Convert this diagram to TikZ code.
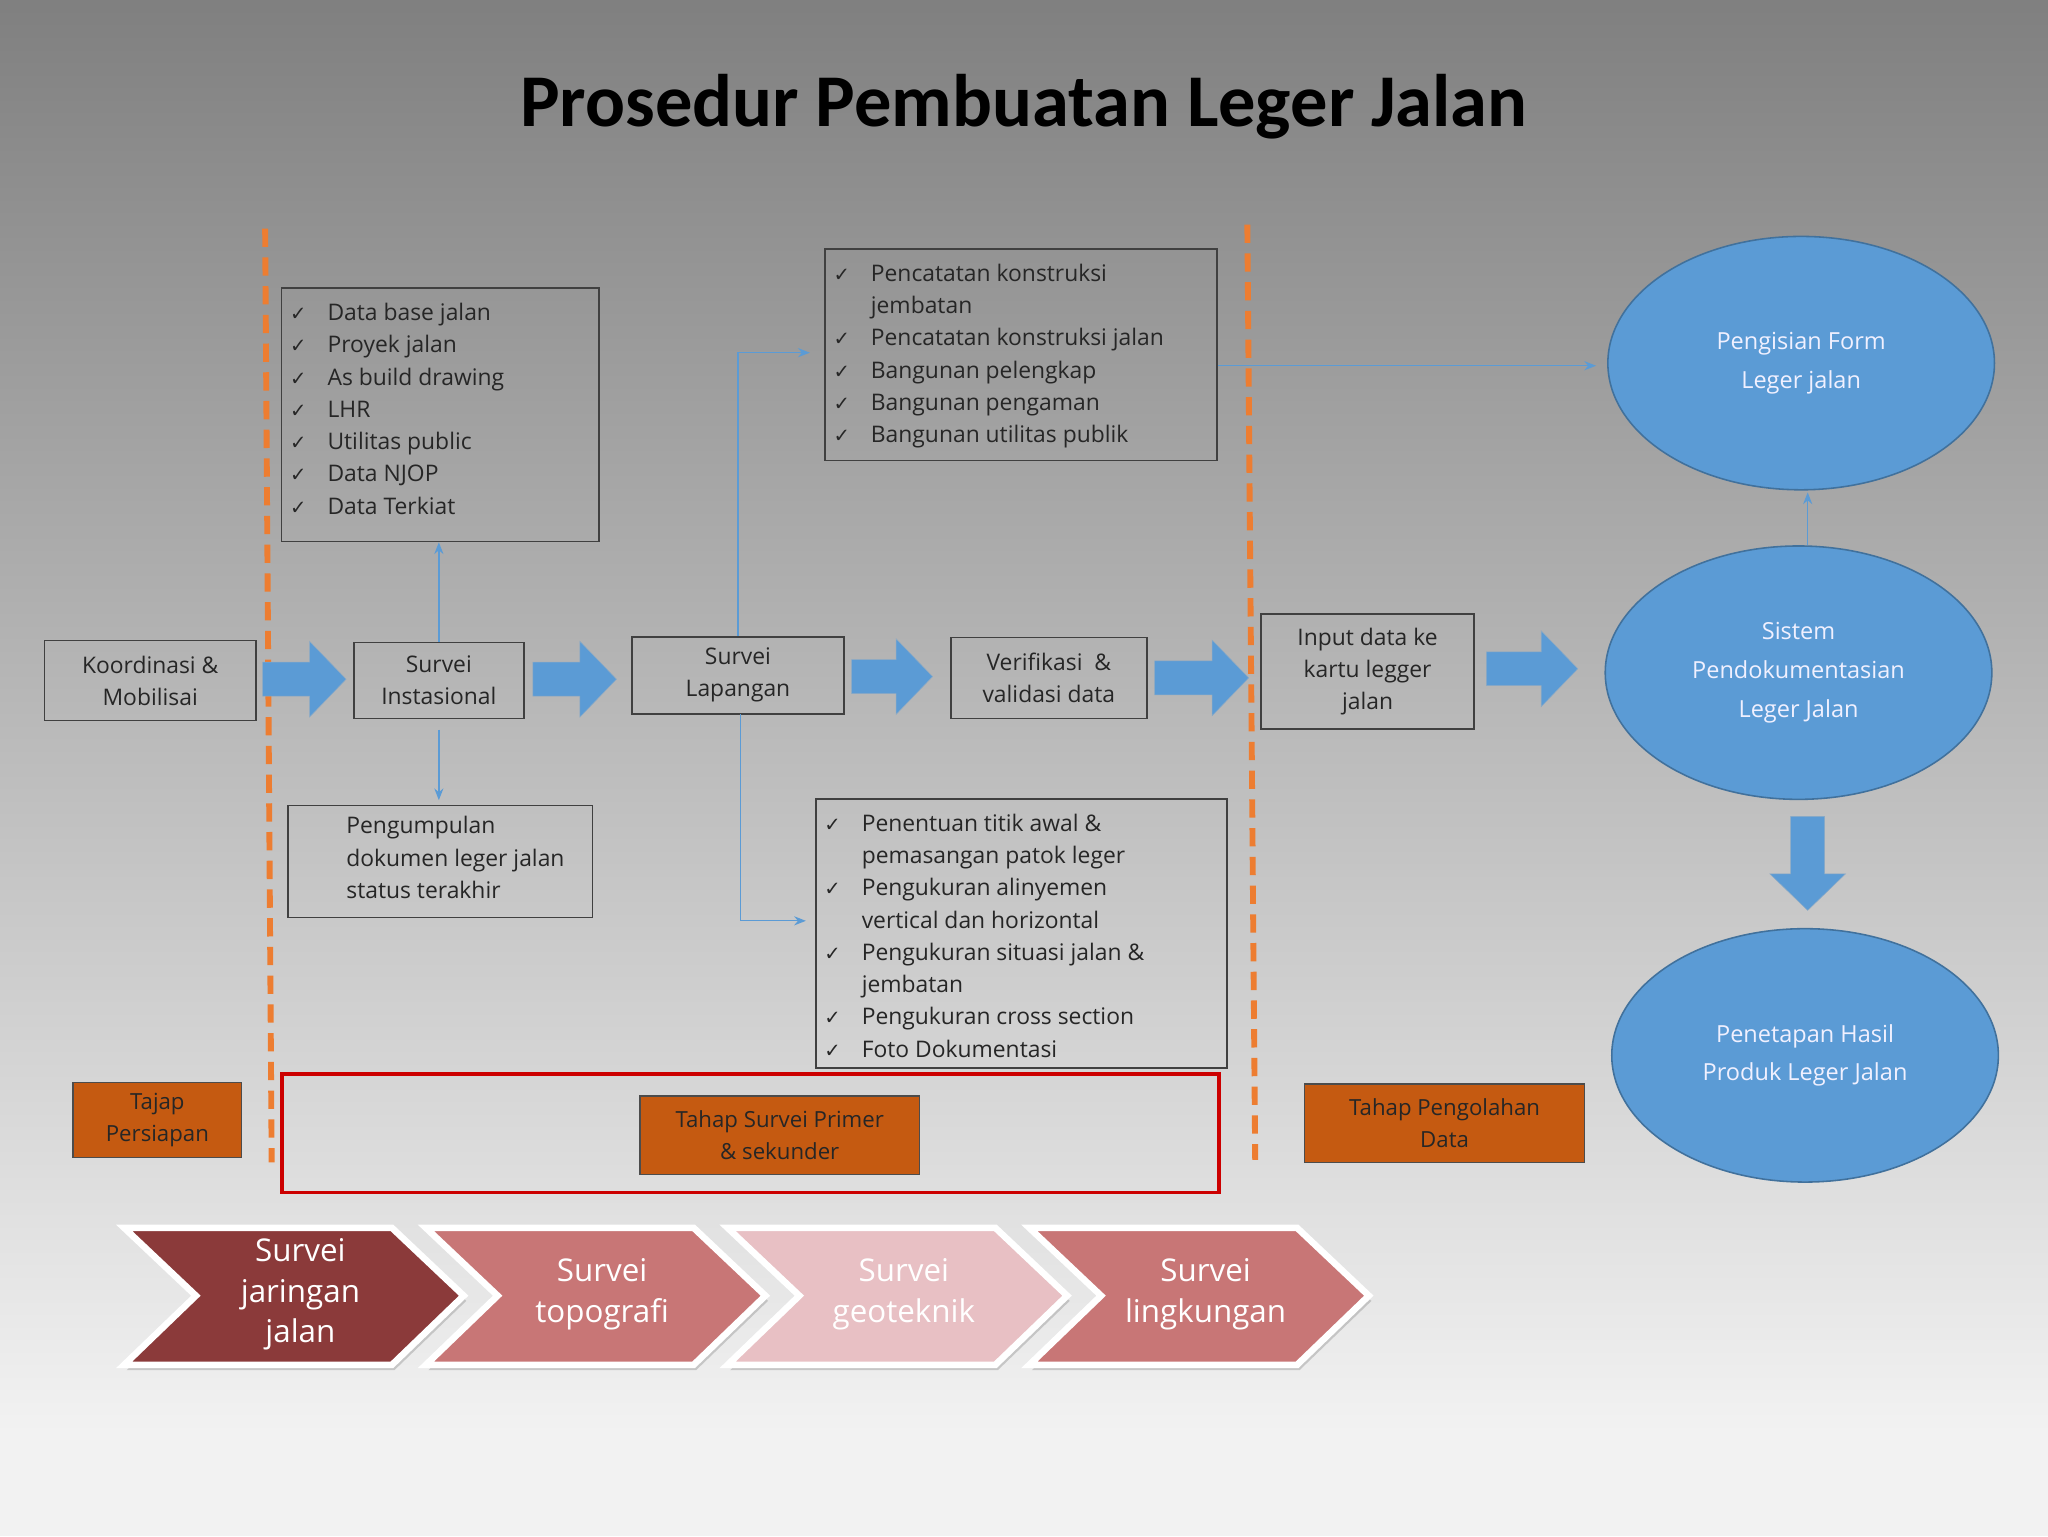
\documentclass[tikz,border=0pt]{standalone}
\usepackage{fontspec}
\setmainfont{Open Sans}
\newfontfamily\titlefont{Carlito}
\newfontfamily\symfont{DejaVu Sans}
\usetikzlibrary{arrows.meta,shapes.geometric,shadows,calc}
\definecolor{bblue}{HTML}{5B9BD5}
\definecolor{bedge}{HTML}{41719C}
\definecolor{oran}{HTML}{C55A11}
\definecolor{ldash}{HTML}{ED7D31}
\newcommand{\ck}{{\symfont\fontsize{15}{15}\selectfont ✓}}
\newcommand{\barr}[3]{\fill[bblue,draw=bedge!60] (#1,#2-13) -- (#1+#3-28,#2-13) -- (#1+#3-28,#2-29) -- (#1+#3,#2) -- (#1+#3-28,#2+29) -- (#1+#3-28,#2+13) -- (#1,#2+13) -- cycle;}
\tikzset{
 gbox/.style={draw=black!75,line width=1.2pt,align=center,font=\fontsize{17.5}{24.5}\selectfont,text=black!85,inner sep=0pt},
 lbox/.style={draw=black!75,line width=1.2pt,anchor=north west,inner sep=0pt},
 ltext/.style={anchor=north west,font=\fontsize{17.5}{24.7}\selectfont,text=black!85,inner sep=0pt},
 ell/.style={ellipse,fill=bblue,draw=bedge,line width=1.2pt,minimum width=296pt,minimum height=194pt,align=center,text=blue!6!white,font=\fontsize{18}{29.5}\selectfont},
 obox/.style={fill=oran,draw=black!70,line width=1pt,align=center,font=\fontsize{17}{24.5}\selectfont,text=black!85,inner sep=0pt},
 tarrow/.style={draw=bblue,line width=1pt,-{Stealth[length=9pt,width=7pt]}},
 odash/.style={draw=ldash,line width=4.5pt,dash pattern=on 14pt off 8pt},
 chev/.style={draw=white,line width=5pt,line join=miter,drop shadow={shadow xshift=2pt,shadow yshift=-4pt,opacity=0.35}},
 ctext/.style={text=white,align=center,font=\fontsize{24}{31}\selectfont}
}
\begin{document}
\begin{tikzpicture}[x=1pt,y=-1pt]
\useasboundingbox (0,0) rectangle (1568,1176);
\shade[top color=black!50,bottom color=black!5] (0,0) rectangle (1568,1100);
\fill[black!5] (0,1099) rectangle (1568,1176);
\node[font=\titlefont\bfseries\fontsize{57}{64}\selectfont,text=black] (title) at (784,82) {Prosedur Pembuatan Leger Jalan};

\draw[odash] (203,175) -- (208,890);
\draw[odash] (955,172) -- (961,888);

% list boxes
\node[lbox,minimum width=243pt,minimum height=194pt] (db) at (215,220) {};
\node[ltext] at (222,228) {\begin{tabular}{@{}l@{\hspace{16pt}}l@{}}
\ck & Data base jalan\\ \ck & Proyek jalan\\ \ck & As build drawing\\ \ck & LHR\\ \ck & Utilitas public\\ \ck & Data NJOP\\ \ck & Data Terkiat\end{tabular}};

\node[lbox,minimum width=300pt,minimum height=162pt] (top) at (631,190) {};
\node[ltext] at (638,198) {\begin{tabular}{@{}l@{\hspace{16pt}}l@{}}
\ck & Pencatatan konstruksi\\ & jembatan\\ \ck & Pencatatan konstruksi jalan\\ \ck & Bangunan pelengkap\\ \ck & Bangunan pengaman\\ \ck & Bangunan utilitas publik\end{tabular}};

\node[lbox,minimum width=315pt,minimum height=206pt] (bot) at (624,611) {};
\node[ltext] at (631,619) {\begin{tabular}{@{}l@{\hspace{16pt}}l@{}}
\ck & Penentuan titik awal \&\\ & pemasangan patok leger\\ \ck & Pengukuran alinyemen\\ & vertical dan horizontal\\ \ck & Pengukuran situasi jalan \&\\ & jembatan\\ \ck & Pengukuran cross section\\ \ck & Foto Dokumentasi\end{tabular}};

\node[lbox,minimum width=233pt,minimum height=86pt] (peng) at (220,616) {};
\node[ltext,align=left] at (265,625) {Pengumpulan\\dokumen leger jalan\\status terakhir};

% flow boxes
\node[gbox,minimum width=162pt,minimum height=61pt] (kor) at (115,521) {Koordinasi \&\\Mobilisai};
\node[gbox,minimum width=130pt,minimum height=58pt] (si) at (336,521) {Survei\\Instasional};
\node[gbox,minimum width=162pt,minimum height=59pt] (sl) at (565,517) {Survei\\Lapangan};
\node[gbox,minimum width=150pt,minimum height=62pt] (ver) at (803,519) {Verifikasi \ \&\\validasi data};
\node[gbox,minimum width=163pt,minimum height=88pt] (inp) at (1047,514) {Input data ke\\kartu legger\\jalan};

% ellipses
\node[ell] (e1) at (1379,278) {Pengisian Form\\Leger jalan};
\node[ell] (e2) at (1377,515) {Sistem\\Pendokumentasian\\Leger Jalan};
\node[ell] (e3) at (1382,808) {Penetapan Hasil\\Produk Leger Jalan};

% block arrows
\barr{201}{520}{64}
\barr{408}{520}{64}
\barr{652}{518}{62}
\barr{884}{519}{72}
\barr{1138}{512}{70}
\fill[bblue,draw=bedge!60] (1371,625) -- (1397,625) -- (1397,669) -- (1413,669) -- (1384,697) -- (1355,669) -- (1371,669) -- cycle;

% thin arrows
\draw[tarrow] (si.north) -- (db.south -| si.north);
\draw[tarrow] ($(si.south)+(0,8)$) -- ($(si.south)+(0,62)$);
\coordinate (c1) at (565,270);
\coordinate (c2) at (567,705);
\draw[tarrow] (sl.north) -- (c1) -- (620,270);
\draw[tarrow] (567,547) -- (c2) -- (617,705);
\draw[tarrow] (top.east |- 0,280) -- (1222,280);
\draw[tarrow] (1384,417) -- (1384,377);

% orange boxes
\node[obox,minimum width=129pt,minimum height=57pt] (t1) at (120.5,857.5) {Tajap\\Persiapan};
\node[obox,minimum width=214pt,minimum height=60pt] (t2) at (597,869) {Tahap Survei Primer\\\& sekunder};
\node[obox,minimum width=214pt,minimum height=60pt] (t3) at (1106,860) {Tahap Pengolahan\\Data};
\draw[red!80!black,line width=3pt] (216,822) rectangle (933,913);

% chevrons
\foreach \i/\c in {3/C87676,2/E8C0C4,1/C87676,0/8B3A3A}{
 \definecolor{cc}{HTML}{\c}
 \pgfmathsetmacro{\xo}{95+231*\i}
 \fill[cc,chev] (\xo,940) -- (\xo+205,940) -- (\xo+260,992) -- (\xo+205,1045) -- (\xo,1045) -- (\xo+55,992) -- cycle;
}
\node[ctext] (s1) at (230,991) {Survei\\jaringan\\jalan};
\node[ctext] (s2) at (461,991) {Survei\\topografi};
\node[ctext] (s3) at (692,991) {Survei\\geoteknik};
\node[ctext] (s4) at (923,991) {Survei\\lingkungan};
\end{tikzpicture}
\end{document}
